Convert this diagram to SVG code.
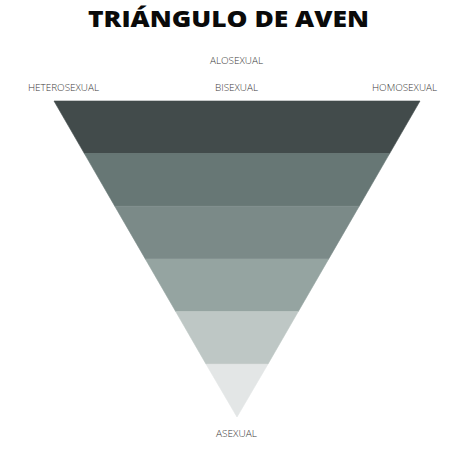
<svg xmlns="http://www.w3.org/2000/svg" width="474" height="462" viewBox="0 0 474 462">
<style>
.t{font-family:"Open Sans","Liberation Sans",sans-serif;font-weight:800;font-size:23px;fill:#0a0a0a}
.l{font-family:"Open Sans","Liberation Sans",sans-serif;font-weight:300;font-size:9.5px;fill:#3a3a3a}
.b{stroke-width:0.6;stroke-linejoin:miter}
</style>
<rect width="474" height="462" fill="#ffffff"/>
<text class="t" x="228.5" y="27.3" text-anchor="middle" textLength="281" lengthAdjust="spacingAndGlyphs">TRIÁNGULO DE AVEN</text>
<g id="labels">
<text class="l" x="63.5" y="91" text-anchor="middle" textLength="71" lengthAdjust="spacingAndGlyphs">HETEROSEXUAL</text>
<text class="l" x="236.5" y="64" text-anchor="middle" textLength="53" lengthAdjust="spacingAndGlyphs">ALOSEXUAL</text>
<text class="l" x="236.5" y="91" text-anchor="middle" textLength="43" lengthAdjust="spacingAndGlyphs">BISEXUAL</text>
<text class="l" x="404.5" y="91" text-anchor="middle" textLength="65" lengthAdjust="spacingAndGlyphs">HOMOSEXUAL</text>
<text class="l" x="236.5" y="437" text-anchor="middle" textLength="41" lengthAdjust="spacingAndGlyphs">ASEXUAL</text>
</g>
<g id="triangle">
<polygon id="band1" class="b" points="54,101 420,101 389.6,153.6 84.4,153.6" fill="#424b4b" stroke="#424b4b"/>
<polygon id="band2" class="b" points="84.4,153.6 389.6,153.6 359.2,206.2 114.8,206.2" fill="#677775" stroke="#677775"/>
<polygon id="band3" class="b" points="114.8,206.2 359.2,206.2 328.7,258.9 145.3,258.9" fill="#7b8a88" stroke="#7b8a88"/>
<polygon id="band4" class="b" points="145.3,258.9 328.7,258.9 298.3,311.5 175.7,311.5" fill="#95a4a1" stroke="#95a4a1"/>
<polygon id="band5" class="b" points="175.7,311.5 298.3,311.5 267.9,364.2 206.1,364.2" fill="#bec7c5" stroke="#bec7c5"/>
<polygon id="band6" class="b" points="206.1,364.2 267.9,364.2 237,417" fill="#e3e6e6" stroke="#e3e6e6"/>
</g>
</svg>
